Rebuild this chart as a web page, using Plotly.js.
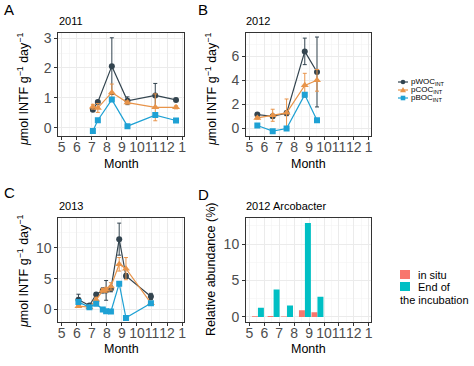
<!DOCTYPE html>
<html><head><meta charset="utf-8">
<script src="https://cdn.plot.ly/plotly-3.0.1.min.js"></script>
<style>html,body{margin:0;padding:0;background:#fff}#chart{width:474px;height:366px}</style>
</head><body><div id="chart"></div>
<script>
// ---------- data ----------
const monthTickVals = [5, 6, 7, 8, 9, 10, 11, 12, 13];
const monthTickText = ['5', '6', '7', '8', '9', '10', '11', '12', '1'];
const seriesNames = ['pWOC<sub>INT</sub>', 'pCOC<sub>INT</sub>', 'pBOC<sub>INT</sub>'];

const months2011 = [7.07, 7.4, 8.33, 9.37, 11.22, 12.6];
const pWOC2011 = [0.6, 0.86, 2.06, 0.9, 1.08, 0.93];
const pWOC2011Err = [0.05, 0.05, 0.95, 0.13, 0.4, 0.05];
const pCOC2011 = [0.7, 0.66, 1.18, 0.84, 0.68, 0.68];
const pCOC2011Err = [0.08, 0.15, 0.28, 0.05, 0.45, 0.05];
const pBOC2011 = [-0.11, 0.25, 0.94, 0.05, 0.42, 0.24];
const pBOC2011Err = [0.02, 0.02, 0.02, 0.02, 0.02, 0.02];

const months2012 = [5.53, 6.56, 7.49, 8.71, 9.53];
const pWOC2012 = [1.16, 1.02, 1.27, 6.4, 4.69];
const pWOC2012Err = [0.1, 0.15, 0.2, 1.1, 2.9];
const pCOC2012 = [0.88, 1.1, 1.3, 3.58, 4.0];
const pCOC2012Err = [0.1, 0.5, 1.15, 1.0, 0.9];
const pBOC2012 = [0.25, -0.22, 0.0, 2.81, 0.69];
const pBOC2012Err = [0.05, 0.05, 0.05, 0.05, 0.05];

const months2013 = [6.11, 6.84, 7.29, 7.73, 7.95, 8.27, 8.82, 9.27, 10.93];
const pWOC2013 = [1.58, 0.65, 2.45, 3.1, 3.1, 3.37, 11.42, 5.43, 2.12];
const pWOC2013Err = [0.9, 0.2, 0.3, 0.4, 1.6, 0.5, 2.6, 0.4, 0.5];
const pCOC2013 = [0.54, 0.38, 1.58, 3.1, 3.2, 3.75, 7.34, 6.63, 1.03];
const pCOC2013Err = [0.2, 0.1, 0.4, 0.3, 0.4, 0.6, 1.1, 1.8, 0.3];
const pBOC2013 = [1.2, 0.38, 0.93, 0.0, -0.27, -0.33, 4.19, -1.36, 1.03];
const pBOC2013Err = [0.1, 0.05, 0.05, 0.05, 0.05, 0.05, 0.1, 0.05, 0.1];

const arcoMonths = [5.57, 6.62, 7.52, 8.72, 9.56];
const arcoInSitu = [0.1, 0.14, 0.05, 0.92, 0.65];
const arcoEnd = [1.25, 3.78, 1.57, 12.9, 2.76];
const arcoNames = ['in situ', 'End of', 'the incubation'];

// ---------- styles ----------
const W = 474, H = 366;
const px = x => x / W, py = y => 1 - y / H;
const colWOC = '#33444f', colCOC = '#e8944a', colBOC = '#1ea1d4';
const colInSitu = '#F8766D', colEnd = '#00BFC4';
const FONT = 'Liberation Sans, Arial, sans-serif';

function series(x, y, err, color, symbol, size, xa, ya) {
  return {
    type: 'scatter', mode: 'lines+markers', x: x, y: y, xaxis: xa, yaxis: ya,
    line: {color: color, width: 1.2},
    marker: {color: color, symbol: symbol, size: size},
    error_y: {type: 'data', array: err, visible: true, color: color, thickness: 1, width: 2},
    showlegend: false, hoverinfo: 'x+y'
  };
}

const traces = [
  series(months2011, pWOC2011, pWOC2011Err, colWOC, 'circle', 6, 'x', 'y'),
  series(months2011, pCOC2011, pCOC2011Err, colCOC, 'triangle-up', 7, 'x', 'y'),
  series(months2011, pBOC2011, pBOC2011Err, colBOC, 'square', 6, 'x', 'y'),
  series(months2012, pWOC2012, pWOC2012Err, colWOC, 'circle', 6, 'x2', 'y2'),
  series(months2012, pCOC2012, pCOC2012Err, colCOC, 'triangle-up', 7, 'x2', 'y2'),
  series(months2012, pBOC2012, pBOC2012Err, colBOC, 'square', 6, 'x2', 'y2'),
  series(months2013, pWOC2013, pWOC2013Err, colWOC, 'circle', 6, 'x3', 'y3'),
  series(months2013, pCOC2013, pCOC2013Err, colCOC, 'triangle-up', 7, 'x3', 'y3'),
  series(months2013, pBOC2013, pBOC2013Err, colBOC, 'square', 6, 'x3', 'y3'),
  {type: 'bar', x: arcoMonths, y: arcoInSitu, xaxis: 'x4', yaxis: 'y4', width: 0.4, offset: -0.4,
   marker: {color: colInSitu, line: {width: 0}}, showlegend: false},
  {type: 'bar', x: arcoMonths, y: arcoEnd, xaxis: 'x4', yaxis: 'y4', width: 0.4, offset: 0,
   marker: {color: colEnd, line: {width: 0}}, showlegend: false}
];

const tickFont = {family: FONT, size: 14, color: '#4D4D4D'};
function xAxis(domain, anchor) {
  return {
    domain: domain, anchor: anchor, range: [4.77, 13.13],
    tickmode: 'array', tickvals: monthTickVals, ticktext: monthTickText, tickangle: 0,
    ticks: 'outside', ticklen: 3, tickwidth: 1, tickcolor: '#333333', ticklabelstandoff: -5,
    tickfont: tickFont,
    showgrid: true, gridcolor: '#EBEBEB', gridwidth: 1,
    minor: {dtick: 0.5, tick0: 4.5, showgrid: true, gridcolor: '#F3F3F3', gridwidth: 0.6, ticks: ''},
    showline: true, mirror: true, linecolor: '#333333', linewidth: 1, zeroline: false
  };
}
function yAxis(domain, anchor, range, dtick, minor) {
  return {
    domain: domain, anchor: anchor, range: range, dtick: dtick, tick0: 0, tickangle: 0,
    ticks: 'outside', ticklen: 3, tickwidth: 1, tickcolor: '#333333',
    tickfont: tickFont,
    showgrid: true, gridcolor: '#EBEBEB', gridwidth: 1,
    minor: {dtick: minor, tick0: 0, showgrid: true, gridcolor: '#F3F3F3', gridwidth: 0.6, ticks: ''},
    showline: true, mirror: true, linecolor: '#333333', linewidth: 1, zeroline: false
  };
}

const leftX = [px(58.3), px(184)], rightX = [px(246), px(370.7)];
const topY = [py(136), py(33.3)], botY = [py(321.7), py(218.3)];

const ytitle = '<i>μ</i>mol INTF g<sup>−1</sup> day<sup>−1</sup>';
function ann(text, x, y, opts) {
  return Object.assign({text: text, x: px(x), y: py(y), xref: 'paper', yref: 'paper',
    showarrow: false, font: {family: FONT, size: 12.5, color: '#000'}}, opts || {});
}
const letterFont = {family: FONT, size: 15, color: '#000'};
const titleFont = {family: FONT, size: 11, color: '#000'};
const leg1Font = {family: FONT, size: 8, color: '#000'};
const leg2Font = {family: FONT, size: 11, color: '#000'};

const annotations = [
  ann('A', 2, 9, {xanchor: 'left', yanchor: 'middle', font: letterFont}),
  ann('B', 196, 9, {xanchor: 'left', yanchor: 'middle', font: letterFont}),
  ann('C', 2, 192, {xanchor: 'left', yanchor: 'middle', font: letterFont}),
  ann('D', 196, 194, {xanchor: 'left', yanchor: 'middle', font: letterFont}),
  ann('2011', 57, 21, {xanchor: 'left', yanchor: 'middle', font: titleFont}),
  ann('2012', 244, 21, {xanchor: 'left', yanchor: 'middle', font: titleFont}),
  ann('2013', 57, 206, {xanchor: 'left', yanchor: 'middle', font: titleFont}),
  ann('2012 Arcobacter', 244, 206, {xanchor: 'left', yanchor: 'middle', font: titleFont}),
  ann('Month', 121, 164, {xanchor: 'center', yanchor: 'middle'}),
  ann('Month', 308, 164, {xanchor: 'center', yanchor: 'middle'}),
  ann('Month', 121, 349, {xanchor: 'center', yanchor: 'middle'}),
  ann('Month', 308, 349, {xanchor: 'center', yanchor: 'middle'}),
  ann(ytitle, 23, 90, {xanchor: 'center', yanchor: 'middle', textangle: -90}),
  ann(ytitle, 211, 90, {xanchor: 'center', yanchor: 'middle', textangle: -90}),
  ann(ytitle, 23, 272, {xanchor: 'center', yanchor: 'middle', textangle: -90}),
  ann('Relative abundance (%)', 211, 270, {xanchor: 'center', yanchor: 'middle', textangle: -90}),
  // legend 1
  ann(seriesNames[0], 409, 82, {xanchor: 'left', yanchor: 'middle', font: leg1Font}),
  ann(seriesNames[1], 409, 90, {xanchor: 'left', yanchor: 'middle', font: leg1Font}),
  ann(seriesNames[2], 409, 98, {xanchor: 'left', yanchor: 'middle', font: leg1Font}),
  // legend 2
  ann(arcoNames[0], 416, 274.5, {xanchor: 'left', yanchor: 'middle', font: leg2Font}),
  ann(arcoNames[1], 416, 286.5, {xanchor: 'left', yanchor: 'middle', font: leg2Font}),
  ann(arcoNames[2], 398, 300, {xanchor: 'left', yanchor: 'middle', font: leg2Font})
];

const shapes = [];
function lkey(y, color, kind) {
  shapes.push({type: 'line', xref: 'paper', yref: 'paper', x0: px(398), x1: px(408), y0: py(y), y1: py(y),
    line: {color: color, width: 1.2}});
  const r = 2.3;
  if (kind === 'circle') {
    shapes.push({type: 'circle', xref: 'paper', yref: 'paper', x0: px(403 - r), x1: px(403 + r), y0: py(y + r), y1: py(y - r),
      fillcolor: color, line: {width: 0}});
  } else if (kind === 'square') {
    shapes.push({type: 'rect', xref: 'paper', yref: 'paper', x0: px(403 - r), x1: px(403 + r), y0: py(y + r), y1: py(y - r),
      fillcolor: color, line: {width: 0}});
  } else {
    shapes.push({type: 'path', xref: 'paper', yref: 'paper',
      path: `M ${px(403 - 3)} ${py(y + 2.2)} L ${px(403 + 3)} ${py(y + 2.2)} L ${px(403)} ${py(y - 3)} Z`,
      fillcolor: color, line: {width: 0}});
  }
}
lkey(82, colWOC, 'circle');
lkey(90, colCOC, 'triangle');
lkey(98, colBOC, 'square');
shapes.push({type: 'rect', xref: 'paper', yref: 'paper', x0: px(400), x1: px(410), y0: py(279), y1: py(270),
  fillcolor: colInSitu, line: {width: 0}});
shapes.push({type: 'rect', xref: 'paper', yref: 'paper', x0: px(400), x1: px(410), y0: py(291), y1: py(282),
  fillcolor: colEnd, line: {width: 0}});

const layout = {
  width: W, height: H, margin: {l: 0, r: 0, t: 0, b: 0},
  paper_bgcolor: '#fff', plot_bgcolor: '#fff', showlegend: false, barmode: 'overlay',
  font: {family: FONT},
  xaxis: xAxis(leftX, 'y'), yaxis: yAxis(topY, 'x', [-0.28, 3.16], 1, 0.5),
  xaxis2: xAxis(rightX, 'y2'), yaxis2: yAxis(topY, 'x2', [-0.62, 7.9], 2, 1),
  xaxis3: xAxis(leftX, 'y3'), yaxis3: yAxis(botY, 'x3', [-1.98, 14.8], 5, 2.5),
  xaxis4: xAxis(rightX, 'y4'), yaxis4: yAxis(botY, 'x4', [-0.65, 13.55], 5, 2.5),
  annotations: annotations, shapes: shapes
};

Plotly.newPlot('chart', traces, layout, {displayModeBar: false, staticPlot: true});
</script>
</body></html>
